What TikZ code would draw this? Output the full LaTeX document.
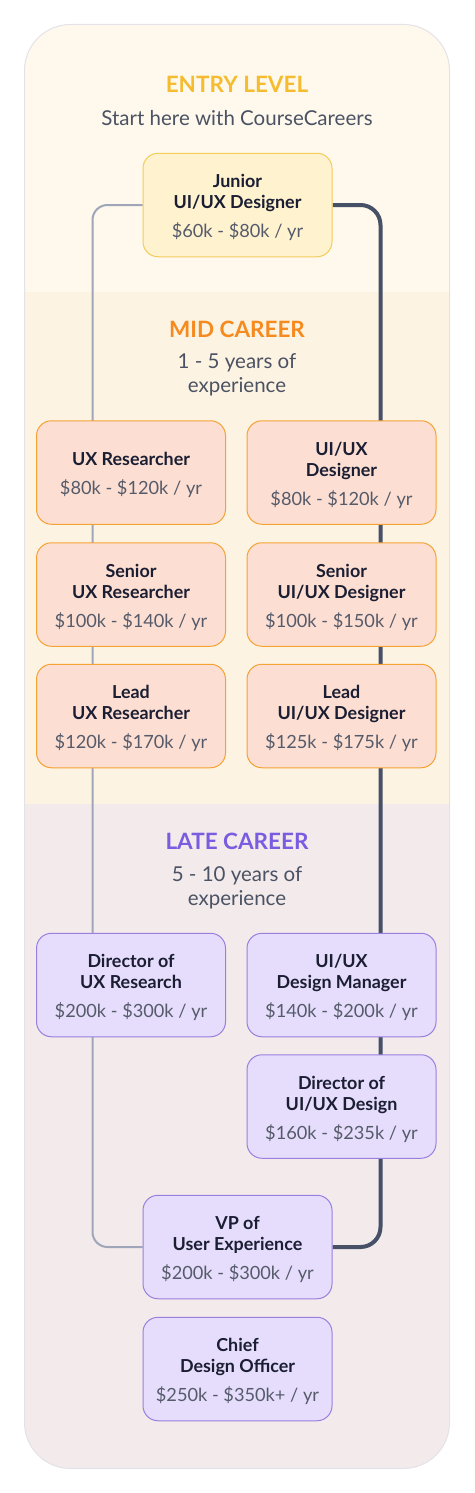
\documentclass[tikz,border=0pt]{standalone}
\usepackage{fontspec}
\setmainfont{Lato}
\definecolor{cardline}{HTML}{E4E2E8}
\definecolor{entrybg}{HTML}{FEF9EC}
\definecolor{midbg}{HTML}{FDF3E2}
\definecolor{latebg}{HTML}{F3EBEB}
\definecolor{entryttl}{HTML}{F5BC2F}
\definecolor{midttl}{HTML}{F58A1F}
\definecolor{latettl}{HTML}{7A5CE0}
\definecolor{subtxt}{HTML}{4B5263}
\definecolor{nametxt}{HTML}{1B1E33}
\definecolor{saltxt}{HTML}{565B6B}
\definecolor{entryfill}{HTML}{FEF2CF}
\definecolor{entrydraw}{HTML}{F3CC5A}
\definecolor{midfill}{HTML}{FCDFD2}
\definecolor{middraw}{HTML}{F5A235}
\definecolor{latefill}{HTML}{E5DDFB}
\definecolor{latedraw}{HTML}{9A7FE0}
\definecolor{leftpath}{HTML}{A0A6BA}
\definecolor{rightpath}{HTML}{465066}
\pgfdeclarelayer{bglayer}
\pgfdeclarelayer{linelayer}
\pgfsetlayers{bglayer,linelayer,main}
\tikzset{
  x=1pt, y=-1pt,
  card/.style={rounded corners=15pt, minimum width=189pt, minimum height=103.5pt, line width=1pt, align=center, inner sep=2pt,
    font=\fontsize{17.9}{21}\selectfont\bfseries, text=nametxt},
  entrybox/.style={card, fill=entryfill, draw=entrydraw},
  midbox/.style={card, fill=midfill, draw=middraw},
  latebox/.style={card, fill=latefill, draw=latedraw},
  ttl/.style={font=\fontsize{22.5}{24}\selectfont\bfseries},
  subttl/.style={font=\fontsize{20.5}{24}\selectfont, text=subtxt, align=center},
  lpath/.style={draw=leftpath, line width=2pt, rounded corners=15pt},
  rpath/.style={draw=rightpath, line width=4pt, rounded corners=20pt},
}
\newcommand{\topstrut}{\rule{0pt}{19pt}}
\newcommand{\sal}[1]{\\[8pt]{\mdseries\fontsize{18.2}{21}\selectfont\color{saltxt}#1}}
\begin{document}
\begin{tikzpicture}
\useasboundingbox (0,0) rectangle (474,1493);
\begin{pgfonlayer}{bglayer}
\fill[white] (0,0) rectangle (474,1493);
\begin{scope}
  \clip[rounded corners=46pt] (24.5,24.5) rectangle (449.5,1468.5);
  \fill[entrybg] (0,0) rectangle (474,292);
  \fill[midbg] (0,292) rectangle (474,804);
  \fill[latebg] (0,804) rectangle (474,1493);
\end{scope}
\draw[cardline, line width=1pt, rounded corners=46pt] (24.5,24.5) rectangle (449.5,1468.5);
\end{pgfonlayer}

% section titles
\node[ttl, text=entryttl] (t1) at (237,84) {ENTRY LEVEL};
\node[subttl] (s1) at (237,118) {Start here with CourseCareers};
\node[ttl, text=midttl] (t2) at (237,329) {MID CAREER};
\node[subttl] (s2) at (237,375) {1 - 5 years of\\experience};
\node[ttl, text=latettl] (t3) at (237,841) {LATE CAREER};
\node[subttl] (s3) at (237,888) {5 - 10 years of\\experience};

% boxes
\node[entrybox] (jr) at (237.5,205) {\topstrut Junior\\UI/UX Designer\sal{\$60k - \$80k / yr}};
\node[midbox] (uxr) at (131,472.5) {\topstrut UX Researcher\sal{\$80k - \$120k / yr}};
\node[midbox] (uid) at (341.5,472.5) {\topstrut UI/UX\\Designer\sal{\$80k - \$120k / yr}};
\node[midbox] (suxr) at (131,594.5) {\topstrut Senior\\UX Researcher\sal{\$100k - \$140k / yr}};
\node[midbox] (suid) at (341.5,594.5) {\topstrut Senior\\UI/UX Designer\sal{\$100k - \$150k / yr}};
\node[midbox] (luxr) at (131,716) {\topstrut Lead\\UX Researcher\sal{\$120k - \$170k / yr}};
\node[midbox] (luid) at (341.5,716) {\topstrut Lead\\UI/UX Designer\sal{\$125k - \$175k / yr}};
\node[latebox] (duxr) at (131,985) {\topstrut Director of\\UX Research\sal{\$200k - \$300k / yr}};
\node[latebox] (udm) at (341.5,985) {\topstrut UI/UX\\Design Manager\sal{\$140k - \$200k / yr}};
\node[latebox] (dud) at (341.5,1106.5) {\topstrut Director of\\UI/UX Design\sal{\$160k - \$235k / yr}};
\node[latebox] (vp) at (237.5,1247) {\topstrut VP of\\User Experience\sal{\$200k - \$300k / yr}};
\node[latebox] (cdo) at (237.5,1369) {\topstrut Chief\\Design Officer\sal{\$250k - \$350k+ / yr}};

% connectors (behind boxes)
\begin{pgfonlayer}{linelayer}
\draw[lpath] (jr.west) -- ++(-50,0) |- (vp.west);
\draw[rpath] (jr.east) -- ++(48,0) |- (vp.east);
\end{pgfonlayer}
\end{tikzpicture}
\end{document}
